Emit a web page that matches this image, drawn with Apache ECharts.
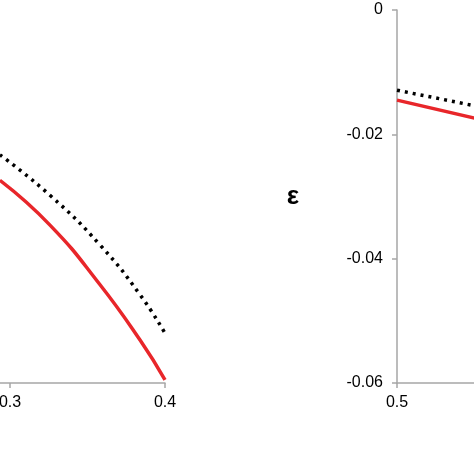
<!DOCTYPE html>
<html><head><meta charset="utf-8">
<script src="https://cdn.jsdelivr.net/npm/echarts@6/dist/echarts.min.js"></script>
<style>html,body{margin:0;padding:0;background:#fff}#c{width:474px;height:474px}</style>
</head><body><div id="c"></div>
<script>
// left panel
var leftX = [0.2935, 0.3258, 0.3581, 0.3839, 0.4];
var leftRed = [-0.0274, -0.0346, -0.0442, -0.0531, -0.0595];
var leftDot = [-0.0233, -0.0298, -0.0378, -0.0458, -0.0520];
// right panel
var rightX = [0.5, 0.55];
var rightRed = [-0.0145, -0.0174];
var rightDot = [-0.0129, -0.0154];

function pairs(xs, ys) { return xs.map(function (x, i) { return [x, ys[i]]; }); }

var axisStyle = { lineStyle: { color: '#a6a6a6', width: 1.5 } };
var lbl = { color: '#000', fontSize: 16, fontFamily: 'Liberation Sans' };

var option = {
  animation: false,
  grid: [
    { left: -145, width: 310, top: 10, bottom: 91, outerBoundsMode: 'none', containLabel: false },
    { left: 397, right: -78, top: 10, bottom: 91, outerBoundsMode: 'none', containLabel: false }
  ],
  xAxis: [
    { gridIndex: 0, type: 'value', min: 0.2, max: 0.4, interval: 0.1, axisLine: { onZero: false, lineStyle: axisStyle.lineStyle },
      axisTick: { show: true, length: 5, lineStyle: axisStyle.lineStyle }, splitLine: { show: false },
      axisLabel: Object.assign({ margin: 12, formatter: function (v) { return v.toFixed(1); } }, lbl) },
    { gridIndex: 1, type: 'value', min: 0.5, max: 0.6, interval: 0.1, axisLine: { onZero: false, lineStyle: axisStyle.lineStyle },
      axisTick: { show: true, length: 5, lineStyle: axisStyle.lineStyle }, splitLine: { show: false },
      axisLabel: Object.assign({ margin: 12, formatter: function (v) { return v.toFixed(1); } }, lbl) }
  ],
  yAxis: [
    { gridIndex: 0, type: 'value', min: -0.06, max: 0, show: false },
    { gridIndex: 1, type: 'value', min: -0.06, max: 0, interval: 0.02, axisLine: { show: true, onZero: false, lineStyle: axisStyle.lineStyle },
      axisTick: { show: true, length: 5, lineStyle: axisStyle.lineStyle }, splitLine: { show: false },
      name: 'ε', nameLocation: 'middle', nameGap: 98, nameRotate: 0,
      nameTextStyle: { fontSize: 26, fontWeight: 'bold', color: '#000' },
      axisLabel: Object.assign({ margin: 14, formatter: function (v) { return v === 0 ? '0' : v.toFixed(2); } }, lbl) }
  ],
  series: [
    { type: 'line', xAxisIndex: 0, yAxisIndex: 0, data: pairs(leftX, leftRed), smooth: true, showSymbol: false, lineStyle: { color: '#e8262a', width: 3.5 } },
    { type: 'line', xAxisIndex: 0, yAxisIndex: 0, data: pairs(leftX, leftDot), smooth: true, showSymbol: false, lineStyle: { color: '#000', width: 3.5, type: [3, 5] } },
    { type: 'line', xAxisIndex: 1, yAxisIndex: 1, data: pairs(rightX, rightRed), showSymbol: false, lineStyle: { color: '#e8262a', width: 3.5 } },
    { type: 'line', xAxisIndex: 1, yAxisIndex: 1, data: pairs(rightX, rightDot), showSymbol: false, lineStyle: { color: '#000', width: 3.5, type: [3, 5] } }
  ]
};
echarts.init(document.getElementById('c')).setOption(option);
</script></body></html>
